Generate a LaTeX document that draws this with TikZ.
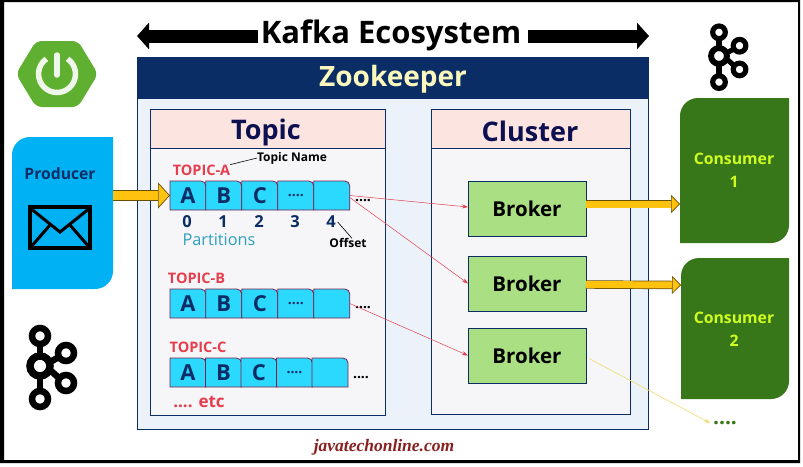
\documentclass[tikz,border=0pt]{standalone}
\usepackage{fontspec}
\setmainfont{Open Sans}
\newfontfamily\sitefont{Liberation Serif}
\definecolor{navy}{HTML}{0B2D66}
\definecolor{ink}{HTML}{0D1050}
\definecolor{cream}{HTML}{FBF8BE}
\definecolor{panel}{HTML}{EBF2F9}
\definecolor{sheet}{HTML}{F6F6F9}
\definecolor{blush}{HTML}{FCE4E0}
\definecolor{sky}{HTML}{00B1F4}
\definecolor{cell}{HTML}{2BD9FE}
\definecolor{cellline}{HTML}{7E1F4D}
\definecolor{leaf}{HTML}{AADF84}
\definecolor{moss}{HTML}{38761A}
\definecolor{lime}{HTML}{CFFF1E}
\definecolor{gold}{HTML}{FFC20E}
\definecolor{spring}{HTML}{5FAF30}
\definecolor{tomato}{HTML}{E63E4D}
\definecolor{teal}{HTML}{2C9FBE}
\definecolor{straw}{HTML}{EEDC70}
\definecolor{brick}{HTML}{8A1F1F}
\usetikzlibrary{arrows.meta}
\tikzstyle{base}=[x=1pt, y=-1pt, inner sep=0pt, outer sep=0pt]
\tikzstyle{frame}=[navy, line width=0.8pt]
\tikzstyle{brokerbox}=[draw=navy, fill=leaf, line width=0.7pt, minimum width=118pt, minimum height=55pt, font=\bfseries\fontsize{20.5}{20.5}\selectfont, text=black]
\tikzstyle{holder}=[minimum width=36pt, minimum height=29pt]
\tikzstyle{celltext}=[text=navy, font=\bfseries\fontsize{22}{22}\selectfont]
\tikzstyle{digit}=[text=navy, font=\bfseries\fontsize{16.5}{16.5}\selectfont]
\tikzstyle{topiclabel}=[text=tomato, font=\bfseries\fontsize{14.5}{14.5}\selectfont]
\tikzstyle{note}=[text=black, font=\bfseries\fontsize{12}{12}\selectfont]
\tikzstyle{dots}=[text=black, font=\bfseries\fontsize{14}{14}\selectfont]
\tikzstyle{client}=[text=lime, font=\bfseries\fontsize{15.8}{23}\selectfont, align=center]
\tikzstyle{heading}=[text=ink, font=\bfseries\fontsize{27}{27}\selectfont]
\tikzstyle{flow}=[tomato, line width=0.5pt, -{Stealth[length=6pt, width=4pt]}]
\tikzstyle{blockarrow}=[draw=black!60!gold, double=gold, double distance=7pt, line width=0.7pt, -{Triangle[length=9pt, width=18pt, fill=gold]}]
\tikzstyle{feedarrow}=[draw=black!60!gold, double=gold, double distance=9pt, line width=0.7pt, -{Triangle[length=12pt, width=26pt, fill=gold]}]
\tikzstyle{titlearrow}=[black, line width=13pt, -{Triangle[length=12pt, width=26pt]}]
\newcommand*{\cornerbox}[6]{%
    \node [minimum width=#4pt, minimum height=#5pt] (#1) at (#2,#3) {};
    \fill [#6] (#1.south west) [rounded corners=18pt] -- (#1.north west) [rounded corners=0pt] -- (#1.north east) [rounded corners=18pt] -- (#1.south east) [rounded corners=0pt] -- cycle;
}
\newcommand*{\partition}[4]{%
    \node [holder] (#1) at (#2,#3) {};
    \draw [cellline, fill=cell, line width=0.8pt] (#1.south west) -- (#1.north west) [rounded corners=5pt] -- (#1.north east) [rounded corners=0pt] -- (#1.south east) -- cycle;
    \node [celltext] (#1text) at (#2,#3) {#4};
}
\newcommand*{\kafkalogo}[3]{%
    \begin{scope}[shift={(#1,#2)}, scale=#3, line width=#3*6.5pt, black]
        \draw (0,-30) circle (8);
        \draw (0,33) circle (8);
        \draw (26,-13) circle (8);
        \draw (26,17) circle (8);
        \draw [line width=#3*7.5pt] (0,0) circle (10);
        \draw (0,-22) -- (0,-12) (0,12) -- (0,25);
        \draw (10,-4) -- (19,-9) (10,4) -- (19,12);
    \end{scope}
}
\begin{document}
\begin{tikzpicture}[base]
    \fill [white] (0,0) rectangle (803,466);
    \fill [black, even odd rule] (0,0) rectangle (800,463) (4,2) rectangle (798,460);
    \path [use as bounding box] (0,0) rectangle (803,466);

    \node [text=black, font=\bfseries\fontsize{31}{31}\selectfont] (title) at (391,35) {Kafka Ecosystem};
    \coordinate (titleL) at (137,36);
    \coordinate (titleR) at (649,36);
    \draw [titlearrow] ([xshift=-3pt]title.west |- titleL) -- (titleL);
    \draw [titlearrow] ([xshift=7pt]title.east |- titleR) -- (titleR);

    \draw [frame, fill=panel] (137,98) rectangle (648,429);
    \fill [navy] (137,57) rectangle (649,98);
    \node [text=cream, font=\bfseries\fontsize{28}{28}\selectfont] (zookeeper) at (393,79) {Zookeeper};

    \draw [frame, fill=sheet] (150,148) rectangle (385,415);
    \draw [frame, fill=blush] (150,109) rectangle (385,148);
    \node [heading] (topic) at (266,132) {Topic};
    \draw [frame, fill=sheet] (431,148) rectangle (630,414);
    \draw [frame, fill=blush] (431,109) rectangle (630,148);
    \node [heading] (cluster) at (530,131) {Cluster};

    \fill [spring, rounded corners=6pt] (16,74) -- (36,41) -- (78,41) -- (98,74) -- (78,107) -- (36,107) -- cycle;
    \draw [white!90!spring, line width=5.5pt] (57,74) ++(-55:18.5) arc [start angle=-55, end angle=235, radius=18.5];
    \draw [white!90!spring, line width=5.5pt, line cap=round] (57,55) -- (57,75);

    \kafkalogo{40}{366}{1}
    \kafkalogo{719}{56}{0.79}

    \cornerbox{producer}{62.5}{213}{101}{152}{sky}
    \node [text=navy, font=\bfseries\fontsize{15.7}{15.7}\selectfont] (producertext) at (60,174) {Producer};
    \draw [black, line width=3.5pt] (30,207) rectangle (90,248);
    \draw [black, line width=3pt] (30,208) -- (60,232) -- (90,208) (30,248) -- (50,225) (90,248) -- (70,225);

    \cornerbox{consumerA}{734.5}{170.5}{109}{145}{moss}
    \node [client] (consumerAtext) at (734,170) {Consumer\\1};
    \cornerbox{consumerB}{735}{328.5}{108}{141}{moss}
    \node [client] (consumerBtext) at (734,329) {Consumer\\2};

    \node [brokerbox] (brokerA) at (527,209) {Broker};
    \node [brokerbox] (brokerB) at (527,283.5) {Broker};
    \node [brokerbox] (brokerC) at (527,355.5) {Broker};

    \foreach \col/\name/\xpos/\xlow in {A/A/188/188, B/B/223.8/223.5, C/C/259.8/259, D/{\fontsize{14}{14}\selectfont ....}/295.8/294.5, E/{}/331.8/330} {
        \partition{a\col}{\xpos}{195.5}{\name}
        \partition{b\col}{\xpos}{303.5}{\name}
        \partition{c\col}{\xlow}{372.5}{\name}
    }
    \foreach \num/\xpos in {0/187, 1/223, 2/259, 3/295, 4/331} {
        \node [digit] (digit\num) at (\xpos,222) {\num};
    }

    \node [topiclabel] (topicA) at (201.5,170) {TOPIC-A};
    \node [topiclabel] (topicB) at (196.5,278) {TOPIC-B};
    \node [topiclabel] (topicC) at (198,347) {TOPIC-C};
    \node [note] (topicname) at (292,158) {Topic Name};
    \draw [black, line width=0.6pt] (topicA.north east) -- (topicname.west);
    \node [text=teal, font=\fontsize{16.3}{16.3}\selectfont] (partitions) at (219,240) {Partitions};
    \node [note] (offset) at (348,243) {Offset};
    \draw [black, line width=0.6pt] (digit4.east) ++(2pt,0pt) -- ([xshift=4pt]offset.north);
    \node [dots] (moreA) at (363,201) {....};
    \node [dots] (moreB) at (363,308) {....};
    \node [dots] (moreC) at (361,378) {....};
    \node [text=tomato, font=\bfseries\fontsize{17}{17}\selectfont] (etc) at (199,402) {.... etc};

    \draw [flow] (aE.east) -- ([yshift=2pt]brokerA.west);
    \draw [flow] ([yshift=-2pt]aE.east) -- (brokerB.west);
    \draw [flow] (bE.east) -- (brokerC.west);

    \draw [feedarrow] (producer.east |- aA.west) -- (aA.west);
    \draw [blockarrow] ([yshift=5pt]brokerA.east) -- (consumerA.west |- 0,204);
    \draw [blockarrow] ([yshift=-1pt]brokerB.east) -- (consumerB.west |- 0,285);

    \node [text=moss, font=\bfseries\fontsize{21}{21}\selectfont] (moreD) at (725,423) {....};
    \draw [straw, line width=0.6pt, -{Stealth[length=6pt, width=4pt]}] ([xshift=3pt, yshift=-3pt]brokerC.east) -- ([xshift=-3pt]moreD.west);

    \node [text=brick, font=\sitefont\itshape\bfseries\fontsize{17.5}{17.5}\selectfont] (site) at (384,447) {javatechonline.com};
\end{tikzpicture}
\end{document}
